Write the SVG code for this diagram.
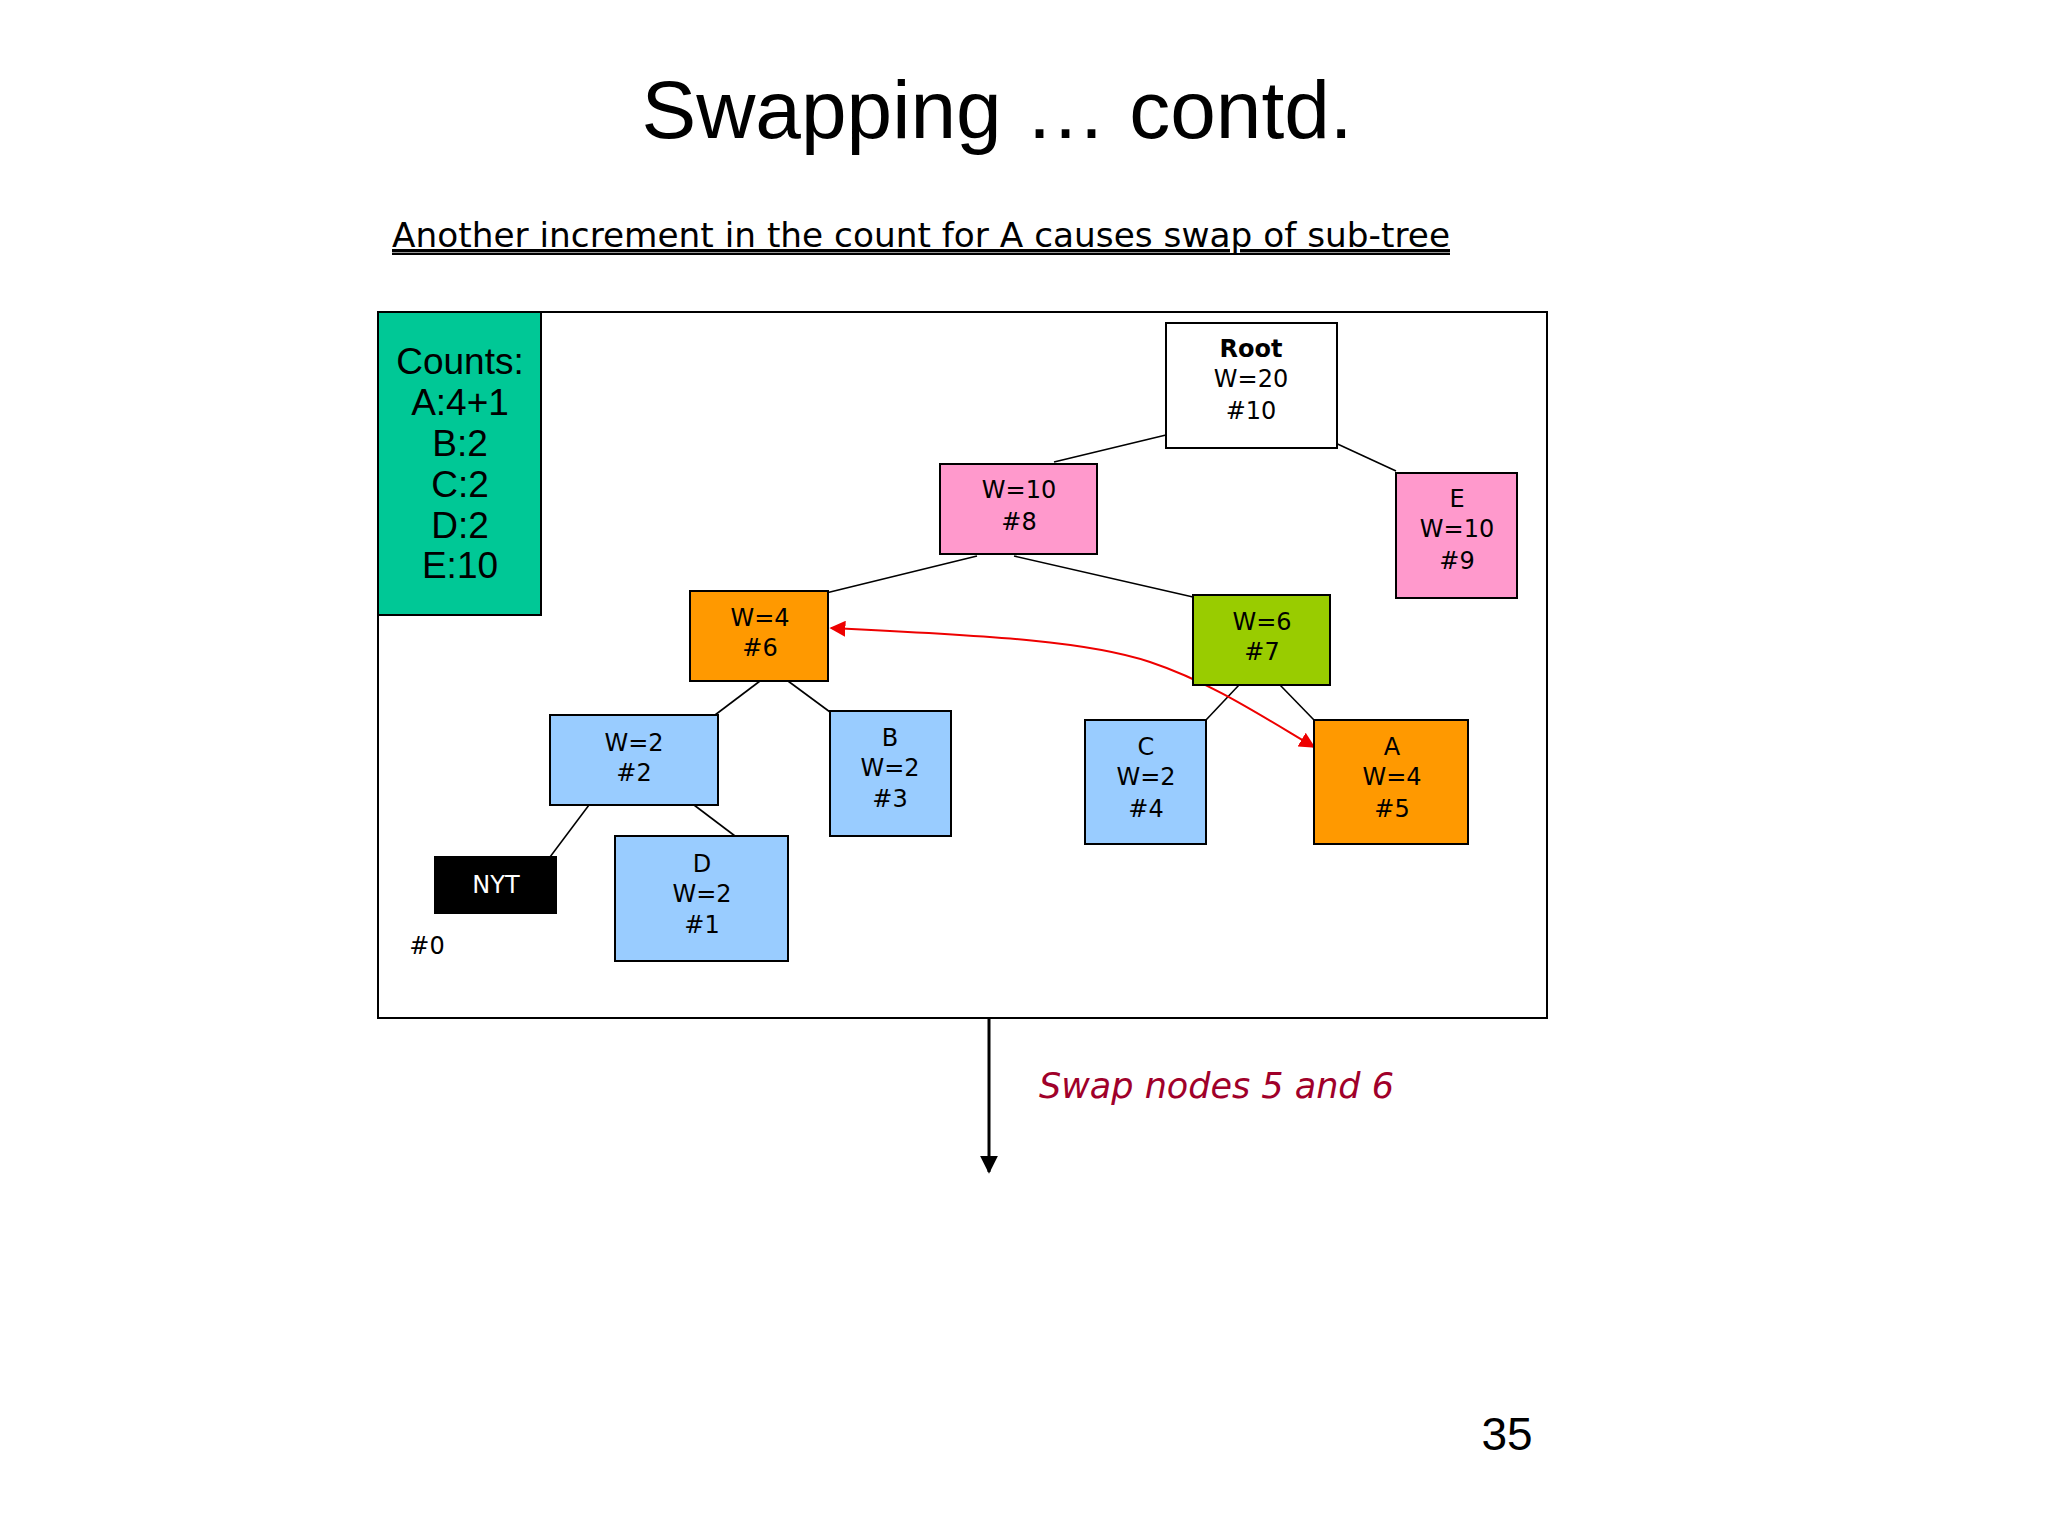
<svg xmlns="http://www.w3.org/2000/svg" width="2048" height="1536" viewBox="0 0 2048 1536">
<defs>
<style>
.n{stroke:#000;stroke-width:2}
.t{font-family:"DejaVu Sans",sans-serif;font-size:24px;text-anchor:middle;fill:#000}
.c{stroke:#000;stroke-width:1.6;fill:none}
</style>
<marker id="ra" viewBox="0 0 10 10" refX="9" refY="5" markerWidth="8" markerHeight="8" orient="auto-start-reverse"><path d="M0,0L10,5L0,10z" fill="#e00"/></marker>
<marker id="ka" viewBox="0 0 10 10" refX="9" refY="5" markerWidth="6" markerHeight="6" orient="auto"><path d="M0,0L10,5L0,10z" fill="#000"/></marker>
</defs>
<rect width="2048" height="1536" fill="#fff"/>
<text x="997" y="138" font-family="Liberation Sans,Arial,sans-serif" font-size="82" text-anchor="middle">Swapping … contd.</text>
<text x="392" y="247" font-family="DejaVu Sans,sans-serif" font-size="34" textLength="1058" lengthAdjust="spacingAndGlyphs" text-decoration="underline">Another increment in the count for A causes swap of sub-tree</text>
<line x1="392" y1="254" x2="1450" y2="254" stroke="#000" stroke-width="2"/>
<rect x="378" y="312" width="1169" height="706" fill="none" stroke="#000" stroke-width="2"/>
<g id="counts"><rect x="378" y="312" width="163" height="303" fill="#00C896" class="n"/>
<g font-family="Liberation Sans,Arial,sans-serif" font-size="37" text-anchor="middle"><text x="460" y="374">Counts:</text><text x="460" y="415">A:4+1</text><text x="460" y="456">B:2</text><text x="460" y="497">C:2</text><text x="460" y="538">D:2</text><text x="460" y="578">E:10</text></g></g>
<g id="connectors">
<line class="c" x1="1166" y1="435" x2="1054" y2="462"/>
<line class="c" x1="1318" y1="435" x2="1396" y2="471"/>
<line class="c" x1="977" y1="556" x2="826" y2="593"/>
<line class="c" x1="1014" y1="556" x2="1193" y2="597"/>
<line class="c" x1="760" y1="681" x2="715" y2="715"/>
<line class="c" x1="788" y1="681" x2="830" y2="712"/>
<line class="c" x1="1239" y1="685" x2="1206" y2="720"/>
<line class="c" x1="1280" y1="685" x2="1314" y2="720"/>
<line class="c" x1="589" y1="805" x2="550" y2="857"/>
<line class="c" x1="694" y1="805" x2="735" y2="836"/>
<path d="M831,628 C1000,636 1090,642 1150,662 S1260,715 1314,747" fill="none" stroke="#e00" stroke-width="2" marker-start="url(#ra)" marker-end="url(#ra)"/>
<line x1="989" y1="1018" x2="989" y2="1172" stroke="#000" stroke-width="3" marker-end="url(#ka)"/>
</g>
<g id="n10"><rect x="1166" y="323" width="171" height="125" fill="#fff" class="n"/><text class="t" x="1251" y="357" font-weight="bold">Root</text><text class="t" x="1251" y="387">W=20</text><text class="t" x="1251" y="419">#10</text></g>
<g id="n8"><rect x="940" y="464" width="157" height="90" fill="#FF99CC" class="n"/><text class="t" x="1019" y="498">W=10</text><text class="t" x="1019" y="530">#8</text></g>
<g id="n9"><rect x="1396" y="473" width="121" height="125" fill="#FF99CC" class="n"/><text class="t" x="1457" y="507">E</text><text class="t" x="1457" y="537">W=10</text><text class="t" x="1457" y="569">#9</text></g>
<g id="n6"><rect x="690" y="591" width="138" height="90" fill="#FF9900" class="n"/><text class="t" x="760" y="626">W=4</text><text class="t" x="760" y="656">#6</text></g>
<g id="n7"><rect x="1193" y="595" width="137" height="90" fill="#99CC00" class="n"/><text class="t" x="1262" y="630">W=6</text><text class="t" x="1262" y="660">#7</text></g>
<g id="n2"><rect x="550" y="715" width="168" height="90" fill="#99CCFF" class="n"/><text class="t" x="634" y="751">W=2</text><text class="t" x="634" y="781">#2</text></g>
<g id="n3"><rect x="830" y="711" width="121" height="125" fill="#99CCFF" class="n"/><text class="t" x="890" y="746">B</text><text class="t" x="890" y="776">W=2</text><text class="t" x="890" y="807">#3</text></g>
<g id="n4"><rect x="1085" y="720" width="121" height="124" fill="#99CCFF" class="n"/><text class="t" x="1146" y="755">C</text><text class="t" x="1146" y="785">W=2</text><text class="t" x="1146" y="817">#4</text></g>
<g id="n5"><rect x="1314" y="720" width="154" height="124" fill="#FF9900" class="n"/><text class="t" x="1392" y="755">A</text><text class="t" x="1392" y="785">W=4</text><text class="t" x="1392" y="817">#5</text></g>
<g id="nyt"><rect x="435" y="857" width="121" height="56" fill="#000" class="n"/><text class="t" x="496" y="893" fill="#fff" style="fill:#fff">NYT</text><text class="t" x="427" y="954">#0</text></g>
<g id="n1"><rect x="615" y="836" width="173" height="125" fill="#99CCFF" class="n"/><text class="t" x="702" y="872">D</text><text class="t" x="702" y="902">W=2</text><text class="t" x="702" y="933">#1</text></g>
<text x="1039" y="1098" font-family="DejaVu Sans,sans-serif" font-style="italic" font-size="35" fill="#A0002A">Swap nodes 5 and 6</text>
<text x="1507" y="1450" font-family="Liberation Sans,Arial,sans-serif" font-size="46" text-anchor="middle">35</text>
</svg>
